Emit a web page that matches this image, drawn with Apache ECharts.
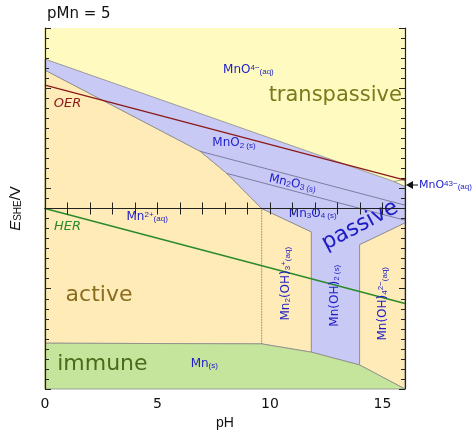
<!DOCTYPE html>
<html>
<head>
<meta charset="utf-8">
<script src="https://cdn.jsdelivr.net/npm/echarts@6/dist/echarts.min.js"></script>
<style>html,body{margin:0;padding:0;background:#fff}#chart{width:474px;height:435px}</style>
</head>
<body>
<div id="chart"></div>
<script>
// 区域多边形 (pH, E)
var activeZone = [[0,1.38],[6.9,0.57],[8.08,0.35],[9.63,0],[11.84,-0.233],[11.84,-1.433],[9.63,-1.35],[0,-1.343]];
var hydroxoZone = [[13.98,-0.36],[16,-0.143],[16,-1.8],[13.98,-1.56]];
var passiveZone = [[0,1.49],[15.5,0.27],[16,0.22],[16,-0.143],[13.98,-0.36],[13.98,-1.56],[11.84,-1.433],[11.84,-0.233],[9.63,0],[8.08,0.35],[6.9,0.57],[0,1.38]];
var immuneZone = [[0,-1.343],[9.63,-1.35],[11.84,-1.433],[13.98,-1.56],[16,-1.8],[0,-1.8]];
var mno4Wedge = [[15.5,0.27],[16,0.29],[16,0.22]];
// 内部分界线
var lineMnO2Mn2O3 = [[6.9,0.57],[16,0.033]];
var lineMn2O3Mn3O4 = [[8.08,0.35],[16,-0.117]];
var dottedLine = [[9.63,0],[9.63,-1.35]];
// 水的稳定线
var oerLine = [[0,1.23],[16,0.283]];
var herLine = [[0,0],[16,-0.947]];

var zones = [
  {pts: activeZone, color: '#feebb8'},
  {pts: hydroxoZone, color: '#feebb8'},
  {pts: passiveZone, color: '#c9c9f5'},
  {pts: immuneZone, color: '#c5e59c'},
  {pts: mno4Wedge, color: '#fffbc0'}
];

// 标签: [pH, E, 文本, 字号, 颜色, 旋转, 斜体]
var labels = [
  [9.04, 1.38, 'MnO{sup|4}{sup|−}{sub|(aq)}', 12, '#1c1cc8', 0, 0],
  [12.9, 1.13, 'transpassive', 21, '#7a7a1a', 0, 0],
  [1.0, 1.05, 'OER', 13, '#8b1a1a', 0, 1],
  [8.4, 0.65, 'MnO{sub|2 (s)}', 12, '#1c1cc8', 0, 0],
  [11.0, 0.25, 'Mn{sub|2}O{sub|3 (s)}', 12, '#1c1cc8', -12, 0],
  [11.9, -0.05, 'Mn{sub|3}O{sub|4 (s)}', 12, '#1c1cc8', 0, 0],
  [14.0, -0.17, 'passive', 22, '#1c1cc8', 28, 0],
  [4.54, -0.08, 'Mn{sup|2+}{sub|(aq)}', 12, '#1c1cc8', 0, 0],
  [1.0, -0.18, 'HER', 13, '#2a8a2a', 0, 1],
  [2.4, -0.87, 'active', 22, '#8a6d1f', 0, 0],
  [2.55, -1.55, 'immune', 22, '#4a6b1a', 0, 0],
  [7.08, -1.55, 'Mn{sub|(s)}', 12, '#1c1cc8', 0, 0],
  [10.7, -0.75, 'Mn{sub|2}(OH){sub|3}{sup|+}{sub|(aq)}', 12, '#1c1cc8', 90, 0],
  [12.9, -0.87, 'Mn(OH){sub|2 (s)}', 12, '#1c1cc8', 90, 0],
  [15.0, -0.95, 'Mn(OH){sub|4}{sup|2−}{sub|(aq)}', 12, '#1c1cc8', 90, 0]
];

var myChart = echarts.init(document.getElementById('chart'));

function richFor() {
  return {
    sub: {fontSize: 8, verticalAlign: 'bottom', lineHeight: 8},
    sup: {fontSize: 8, verticalAlign: 'top', lineHeight: 8}
  };
}

function lineSeries(data, color, width, type) {
  return {type: 'line', data: data, symbol: 'none', silent: true, z: 3,
    lineStyle: {color: color, width: width, type: type || 'solid'}};
}

var series = [];
zones.forEach(function (z) {
  series.push({
    type: 'custom', silent: true, z: 1, data: [0],
    renderItem: function (params, api) {
      return {type: 'polygon', shape: {points: z.pts.map(function (p) { return api.coord(p); })},
        style: {fill: z.color, stroke: '#8a8a8a', lineWidth: 0.8}};
    }
  });
});
series.push(lineSeries(lineMnO2Mn2O3, '#6a6a8a', 0.8));
series.push(lineSeries(lineMn2O3Mn3O4, '#6a6a8a', 0.8));
series.push(lineSeries(dottedLine, '#555', 0.8, 'dotted'));
series.push(lineSeries(oerLine, '#8b1a1a', 1.4));
series.push(lineSeries(herLine, '#2a8a2a', 1.4));
series.push({
  type: 'custom', silent: true, z: 5, data: labels,
  renderItem: function (params, api) {
    var d = labels[params.dataIndex];
    var c = api.coord([d[0], d[1]]);
    return {type: 'text', x: c[0], y: c[1], rotation: d[5] * Math.PI / 180,
      style: {text: d[2], fill: d[4], fontSize: d[3], fontStyle: d[6] ? 'italic' : 'normal',
        fontFamily: 'DejaVu Sans', align: 'center', verticalAlign: 'middle', rich: richFor()}};
  }
});

var tickStyle = {inside: true, length: 6, lineStyle: {color: '#222'}};
var option = {
  animation: false,
  grid: {left: 44, right: 69, top: 28, bottom: 46},
  title: {text: 'pMn = 5', left: 42, top: 2, textStyle: {fontSize: 15, fontWeight: 'normal', color: '#111', fontFamily: 'DejaVu Sans'}},
  xAxis: [
    {type: 'value', min: 0, max: 16, interval: 5, name: 'pH', nameLocation: 'middle', nameGap: 26, z: 10,
      nameTextStyle: {fontSize: 14, color: '#111'},
      axisLine: {lineStyle: {color: '#222', width: 1.2}}, axisTick: tickStyle,
      minorTick: {show: true, splitNumber: 5, length: 6, lineStyle: {color: '#222'}},
      axisLabel: {fontSize: 14, color: '#111', fontFamily: 'DejaVu Sans', showMaxLabel: false}, splitLine: {show: false}},
    {type: 'value', position: 'top', min: 0, max: 16, interval: 5, z: 10,
      axisLine: {lineStyle: {color: '#222', width: 1.2}}, axisTick: tickStyle,
      minorTick: {show: true, splitNumber: 5, length: 6, lineStyle: {color: '#222'}},
      axisLabel: {show: false}, splitLine: {show: false}}
  ],
  yAxis: [
    {type: 'value', min: -1.8, max: 1.8, interval: 1, name: '{i|E}{s|SHE}/V', nameLocation: 'middle', nameGap: 22, z: 10,
      nameTextStyle: {fontSize: 15, color: '#111', rich: {i: {fontSize: 15, fontStyle: 'italic'}, s: {fontSize: 10, verticalAlign: 'bottom', lineHeight: 10}}},
      axisLine: {onZero: false, lineStyle: {color: '#222', width: 1.2}}, axisTick: tickStyle,
      minorTick: {show: true, splitNumber: 10, length: 4, lineStyle: {color: '#222'}},
      axisLabel: {fontSize: 14, color: '#111', fontFamily: 'DejaVu Sans', showMinLabel: false, showMaxLabel: false,
        formatter: function (v) { return Math.abs(v - Math.round(v)) < 1e-6 ? String(Math.round(v)).replace('-', '−') : ''; }},
      splitLine: {show: false}},
    {type: 'value', position: 'right', min: -1.8, max: 1.8, interval: 1, z: 10,
      axisLine: {onZero: false, lineStyle: {color: '#222', width: 1.2}}, axisTick: tickStyle,
      minorTick: {show: true, splitNumber: 10, length: 4, lineStyle: {color: '#222'}},
      axisLabel: {show: false}, splitLine: {show: false}}
  ],
  graphic: [
    {type: 'rect', shape: {x: 44, y: 28, width: 361, height: 361}, style: {fill: '#fffbc0'}, z: -10},
    {type: 'line', shape: {x1: 418, y1: 185, x2: 408, y2: 185}, style: {stroke: '#111', lineWidth: 1}, z: 10},
    {type: 'polygon', shape: {points: [[406,185],[413,181],[413,189]]}, style: {fill: '#111'}, z: 10},
    {type: 'text', x: 419, y: 185, z: 10, style: {text: 'MnO{sup|4}{sup|3−}{sub|(aq)}', fill: '#1c1cc8', fontSize: 11,
      fontFamily: 'DejaVu Sans', verticalAlign: 'middle', rich: richFor()}}
  ],
  series: series
};
myChart.setOption(option);
</script>
</body>
</html>
